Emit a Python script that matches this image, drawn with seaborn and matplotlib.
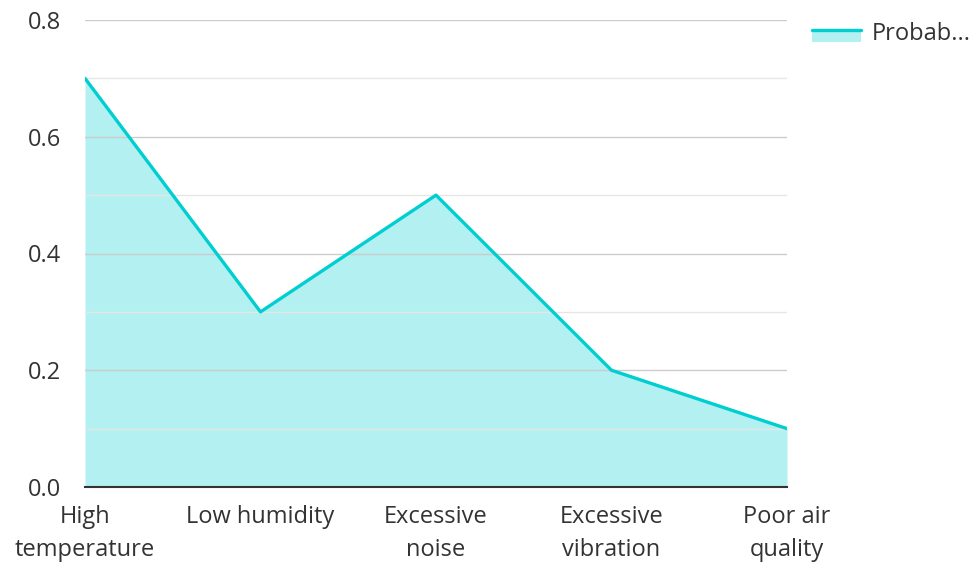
import matplotlib
matplotlib.use("Agg")
import matplotlib.pyplot as plt
import seaborn as sns
import numpy as np
import pandas as pd
from matplotlib.legend_handler import HandlerBase
from matplotlib.patches import Rectangle
from matplotlib.lines import Line2D

categories = ["High\ntemperature", "Low humidity", "Excessive\nnoise", "Excessive\nvibration", "Poor air\nquality"]
values = [0.7, 0.3, 0.5, 0.2, 0.1]
series_name = "Probab..."
yticks = [0.0, 0.2, 0.4, 0.6, 0.8]

line_color = "#00CED1"
fill_color = "#B2F0F1"
FS = 17

sns.set_theme(style="white")
plt.rcParams['font.family'] = ['Open Sans', 'DejaVu Sans']

fig = plt.figure(figsize=(9.77, 5.62), dpi=100)
ax = fig.add_axes([85/977, 1 - 487/562, (787-85)/977, (487-20)/562])

df = pd.DataFrame({"x": np.arange(len(categories)), "y": values})
ax.fill_between(df["x"], df["y"], 0, color=fill_color, linewidth=0, zorder=1)
sns.lineplot(data=df, x="x", y="y", ax=ax, color=line_color, linewidth=2.4, zorder=3)

ax.set_xlim(0, len(categories) - 1)
ax.set_ylim(0, 0.8)
ax.set_xticks(np.arange(len(categories)))
ax.set_xticklabels(categories, fontsize=FS, color="#333333", linespacing=1.5)
ax.set_yticks(yticks)
ax.set_yticklabels([f"{v:.1f}" for v in yticks], fontsize=FS, color="#333333")
ax.set_yticks(np.arange(0.1, 0.8, 0.2), minor=True)
ax.grid(True, which="major", axis="y", color="#cccccc", linewidth=1, zorder=2)
ax.grid(True, which="minor", axis="y", color="#e6e6e6", linewidth=1, zorder=2)
ax.set_axisbelow(False)
ax.set_xlabel("")
ax.set_ylabel("")
for s in ["top", "right", "left"]:
    ax.spines[s].set_visible(False)
ax.spines["bottom"].set_color("#333333")
ax.spines["bottom"].set_linewidth(1.5)
ax.spines["bottom"].set_zorder(4)
ax.tick_params(axis="both", length=0)
ax.tick_params(axis="y", pad=17)
ax.tick_params(axis="x", pad=13)


class AreaHandler(HandlerBase):
    def create_artists(self, legend, orig_handle, xdescent, ydescent, width, height, fontsize, trans):
        cy = -ydescent + height / 2 + 1.5
        r = Rectangle((-xdescent, cy - 9), width, 9, facecolor=fill_color,
                      edgecolor="none", transform=trans)
        l = Line2D([-xdescent, -xdescent + width], [cy, cy],
                   color=line_color, linewidth=2.4, transform=trans)
        return [r, l]


handle = Rectangle((0, 0), 1, 1)
fig.legend([handle], [series_name], handler_map={Rectangle: AreaHandler()},
           loc="upper left", bbox_to_anchor=(812/977, 1 - 22/562), frameon=False,
           borderpad=0, borderaxespad=0,
           fontsize=FS, handlelength=2.08, handleheight=0.7, handletextpad=0.46,
           labelcolor="#333333")

fig.savefig("out.png", dpi=100)
